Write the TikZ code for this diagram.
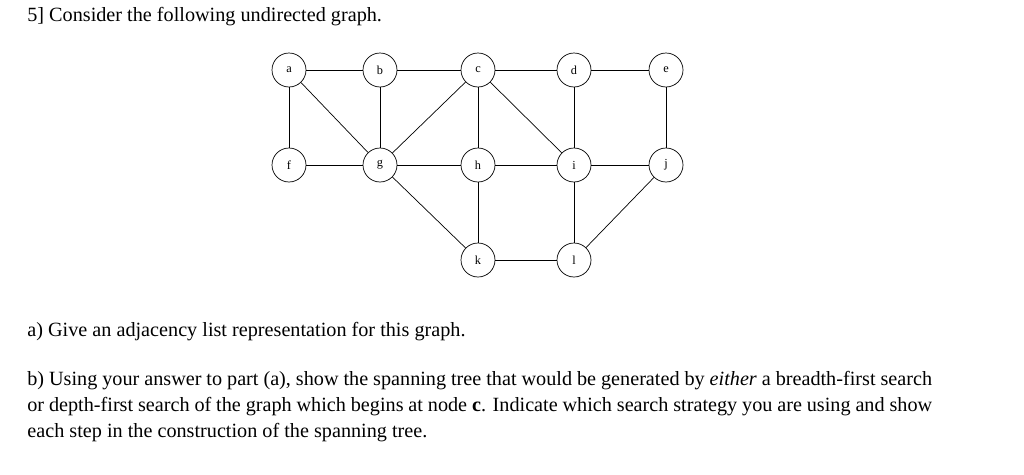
\documentclass[tikz,border=0pt]{standalone}
\usepackage{fontspec}
\setmainfont{Liberation Serif}
\begin{document}
\begin{tikzpicture}[x=0.02cm,y=-0.02cm,
  vx/.style={circle,draw,minimum size=0.68cm,inner sep=0pt,font=\fontsize{7}{8}\selectfont},
  txt/.style={anchor=north west,inner sep=0pt,font=\fontsize{11.5}{14.8}\selectfont,align=justify}]
\useasboundingbox (0,0) rectangle (1024,474);
\node[txt] (t0) at (27,7) {5] Consider the following undirected graph.};
\node[vx] (a) at (289,70) {a};
\node[vx] (b) at (380,70) {b};
\node[vx] (c) at (478,70) {c};
\node[vx] (d) at (574,70) {d};
\node[vx] (e) at (666,70) {e};
\node[vx] (f) at (289,165) {f};
\node[vx] (g) at (380,165) {g};
\node[vx] (h) at (478,165) {h};
\node[vx] (i) at (574,165) {i};
\node[vx] (j) at (666,165) {j};
\node[vx] (k) at (478,260) {k};
\node[vx] (l) at (574,260) {l};
\foreach \u/\v in {a/b,b/c,c/d,d/e,a/f,a/g,b/g,g/c,c/h,c/i,d/i,e/j,f/g,g/h,h/i,i/j,g/k,h/k,k/l,i/l,l/j}
  \draw (\u) -- (\v);
\node[txt] (ta) at (27,322) {a) Give an adjacency list representation for this graph.};
\node[txt,text width=18.1cm] (tb) at (27,371) {b) Using your answer to part (a), show the spanning tree that would be generated by \textit{either} a breadth-first search or depth-first search of the graph which begins at node \textbf{c}. Indicate which search strategy you are using and show each step in the construction of the spanning tree.};
\end{tikzpicture}
\end{document}
